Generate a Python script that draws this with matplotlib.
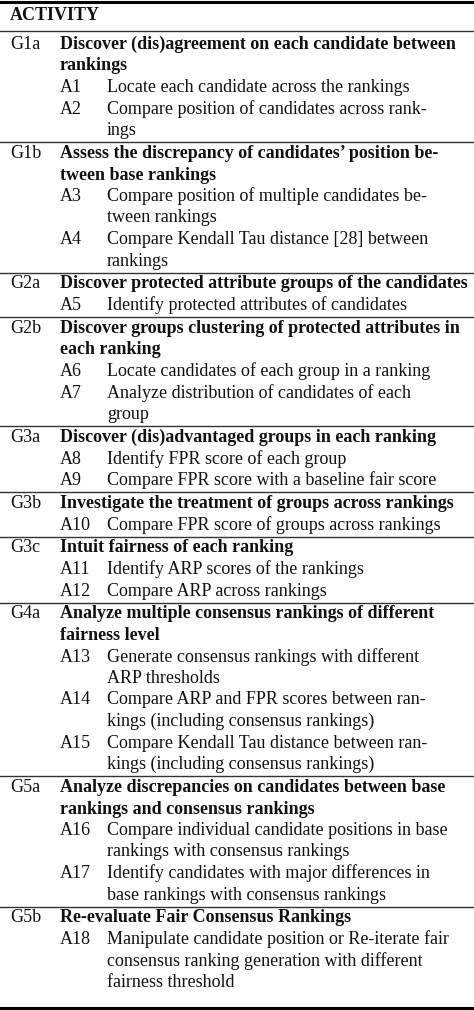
import matplotlib.pyplot as plt

plt.rcParams['font.family'] = ['Liberation Serif', 'DejaVu Serif']

header = "ACTIVITY"
goal_ids = ["G1a", "G1b", "G2a", "G2b", "G3a", "G3b", "G3c", "G4a", "G5a", "G5b"]
goal_texts = [
    ["Discover (dis)agreement on each candidate between", "rankings"],
    ["Assess the discrepancy of candidates\u2019 position be-", "tween base rankings"],
    ["Discover protected attribute groups of the candidates"],
    ["Discover groups clustering of protected attributes in", "each ranking"],
    ["Discover (dis)advantaged groups in each ranking"],
    ["Investigate the treatment of groups across rankings"],
    ["Intuit fairness of each ranking"],
    ["Analyze multiple consensus rankings of different", "fairness level"],
    ["Analyze discrepancies on candidates between base", "rankings and consensus rankings"],
    ["Re-evaluate Fair Consensus Rankings"],
]
activities = [
    [("A1", ["Locate each candidate across the rankings"]),
     ("A2", ["Compare position of candidates across rank-", "ings"])],
    [("A3", ["Compare position of multiple candidates be-", "tween rankings"]),
     ("A4", ["Compare Kendall Tau distance [28] between", "rankings"])],
    [("A5", ["Identify protected attributes of candidates"])],
    [("A6", ["Locate candidates of each group in a ranking"]),
     ("A7", ["Analyze distribution of candidates of each", "group"])],
    [("A8", ["Identify FPR score of each group"]),
     ("A9", ["Compare FPR score with a baseline fair score"])],
    [("A10", ["Compare FPR score of groups across rankings"])],
    [("A11", ["Identify ARP scores of the rankings"]),
     ("A12", ["Compare ARP across rankings"])],
    [("A13", ["Generate consensus rankings with different", "ARP thresholds"]),
     ("A14", ["Compare ARP and FPR scores between ran-", "kings (including consensus rankings)"]),
     ("A15", ["Compare Kendall Tau distance between ran-", "kings (including consensus rankings)"])],
    [("A16", ["Compare individual candidate positions in base", "rankings with consensus rankings"]),
     ("A17", ["Identify candidates with major differences in", "base rankings with consensus rankings"])],
    [("A18", ["Manipulate candidate position or Re-iterate fair",
              "consensus ranking generation with different", "fairness threshold"])],
]

W, H = 474, 1010
fig = plt.figure(figsize=(W / 100, H / 100), dpi=100)
ax = fig.add_axes([0, 0, 1, 1])
ax.set_xlim(0, W)
ax.set_ylim(H, 0)
ax.axis('off')

fs = 13
lh = 21.5
x_code, x_goal, x_act = 10, 60, 107

ax.axhline(1.5, color='black', lw=2.2)
ax.text(x_code, 16, header, fontsize=fs, fontweight='bold', va='center', color='#111111')
ax.axhline(31, color='#333333', lw=1.0)

y = 31 + 13.5
for gid, gtext, acts in zip(goal_ids, goal_texts, activities):
    ax.text(x_code, y, gid, fontsize=fs, va='center', color='#111111')
    for line in gtext:
        ax.text(x_goal, y, line, fontsize=fs, fontweight='bold', va='center', color='#111111')
        y += lh
    for aid, alines in acts:
        ax.text(x_goal, y, aid, fontsize=fs, va='center', color='#111111')
        for line in alines:
            ax.text(x_act, y, line, fontsize=fs, va='center', color='#111111')
            y += lh
    rule_y = y - lh + 11.5
    if gid != goal_ids[-1]:
        ax.axhline(rule_y, color='#333333', lw=1.0)
    y = rule_y + 11.5
ax.axhline(1008, color='black', lw=2.2)

fig.savefig("out.png", dpi=100)
